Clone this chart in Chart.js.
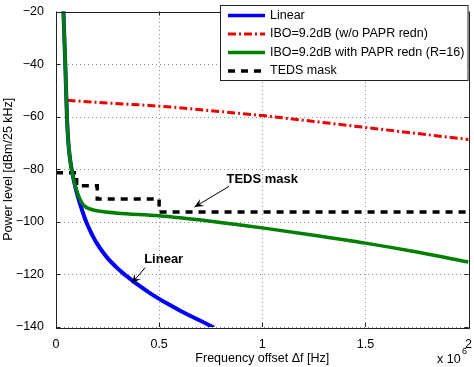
<!DOCTYPE html>
<html><head><meta charset="utf-8">
<script src="https://cdn.jsdelivr.net/npm/chart.js@4"></script>
<style>html,body{margin:0;padding:0;background:#fff;overflow:hidden}#wrap{width:474px;height:367px;position:relative}</style>
</head><body><div id="wrap"><canvas id="c" width="474" height="367"></canvas></div>
<script>
// ---- data (frequency offset in units of 1e6 Hz, level in dBm/25 kHz) ----
const linearX = [0.034,0.036,0.045,0.053,0.06,0.068,0.077,0.09,0.101,0.115,0.126,0.148,0.166,0.181,0.2,0.225,0.25,0.3,0.326,0.35,0.4,0.45,0.5,0.537,0.6,0.65,0.7,0.765];
const linearY = [-15,-20,-40,-60,-70,-76,-80.5,-85.5,-89,-92.8,-95.5,-100.3,-103.4,-105.8,-108.4,-111.3,-113.8,-117.8,-119.6,-121.1,-124.1,-126.8,-129.3,-131.0,-133.7,-135.7,-137.6,-140.2];
const iboX = [0.056,0.25,0.5,0.75,1.0,1.25,1.5,1.75,2.0];
const iboY = [-53.8,-54.8,-56.0,-57.7,-59.6,-61.8,-64.1,-66.4,-68.7];
const paprX = [0.034,0.036,0.045,0.053,0.06,0.068,0.077,0.09,0.101,0.115,0.126,0.14,0.157,0.185,0.214,0.3,0.5,0.75,1.0,1.25,1.5,1.75,2.0];
const paprY = [-15,-20,-40,-60,-70,-76,-80.5,-85.3,-88.3,-91.2,-92.8,-94.1,-94.9,-95.6,-96,-96.7,-97.7,-99.8,-102.3,-105.1,-108.1,-111.5,-115.3];
const maskX = [0,0.1,0.2,0.5,2.0];
const maskY = [-81.3,-86.3,-91.3,-96.3,-96.3];
const xTicks = [0,0.5,1,1.5,2];
const yTicks = [-140,-120,-100,-80,-60,-40,-20];
const seriesNames = ['Linear','IBO=9.2dB (w/o PAPR redn)','IBO=9.2dB with PAPR redn (R=16)','TEDS mask'];
// annotations: [text, textX, textY, tailX, tailY, tipX, tipY] in data units
const notes = [
  ['TEDS mask', 1.0, -83.7, 0.839, -86.5, 0.671, -94.4],
  ['Linear', 0.522, -114.3, 0.432, -117.4, 0.368, -123.4]
];

const FONT = '"Liberation Sans", Arial, Helvetica, sans-serif';
const FS = 12.5;
const pts = (xs, ys) => xs.map((x, i) => ({x, y: ys[i]}));

const styles = [
  {borderColor:'#0000ff', borderWidth:4, borderDash:[], order:1},
  {borderColor:'#ee0000', borderWidth:3, borderDash:[8,3,2,3], order:2},
  {borderColor:'#007f00', borderWidth:3.5, borderDash:[], order:0},
  {borderColor:'#000000', borderWidth:3.5, borderDash:[7,6], order:3}
];

const gridPlugin = {
  id:'dotgrid',
  beforeDatasetsDraw(chart){
    const {ctx, chartArea:a, scales:{x, y}} = chart;
    ctx.save();
    ctx.strokeStyle = '#8a8a8a'; ctx.lineWidth = 1; ctx.setLineDash([1,3]);
    ctx.beginPath();
    xTicks.forEach(v => { const px = Math.round(x.getPixelForValue(v))+0.5; ctx.moveTo(px, a.bottom); ctx.lineTo(px, a.top); });
    yTicks.forEach(v => { const py = Math.round(y.getPixelForValue(v))+0.5; ctx.moveTo(a.left, py); ctx.lineTo(a.right, py); });
    ctx.stroke();
    ctx.restore();
  }
};

const framePlugin = {
  id:'frame',
  afterDatasetsDraw(chart){
    const {ctx, chartArea:a, scales:{x, y}} = chart;
    ctx.save();
    ctx.strokeStyle = '#222'; ctx.lineWidth = 1; ctx.setLineDash([]);
    ctx.strokeRect(Math.round(a.left)+0.5, Math.round(a.top)+0.5, Math.round(a.right-a.left), Math.round(a.bottom-a.top));
    ctx.beginPath();
    xTicks.forEach(v => { const px = Math.round(x.getPixelForValue(v))+0.5;
      ctx.moveTo(px, a.bottom); ctx.lineTo(px, a.bottom-4); ctx.moveTo(px, a.top); ctx.lineTo(px, a.top+4); });
    yTicks.forEach(v => { const py = Math.round(y.getPixelForValue(v))+0.5;
      ctx.moveTo(a.left, py); ctx.lineTo(a.left+4, py); ctx.moveTo(a.right, py); ctx.lineTo(a.right-4, py); });
    ctx.stroke();
    // annotations
    notes.forEach(n => {
      const tx = x.getPixelForValue(n[1]), ty = y.getPixelForValue(n[2]);
      ctx.font = 'bold 13px ' + FONT; ctx.fillStyle = '#000'; ctx.textAlign = 'center'; ctx.textBaseline = 'middle';
      ctx.fillText(n[0], tx, ty);
      const x0 = x.getPixelForValue(n[3]), y0 = y.getPixelForValue(n[4]);
      const x1 = x.getPixelForValue(n[5]), y1 = y.getPixelForValue(n[6]);
      ctx.strokeStyle = '#000'; ctx.lineWidth = 1;
      ctx.beginPath(); ctx.moveTo(x0, y0); ctx.lineTo(x1, y1); ctx.stroke();
      const ang = Math.atan2(y1-y0, x1-x0), L = 10, W = 0.42;
      ctx.beginPath();
      ctx.moveTo(x1, y1);
      ctx.lineTo(x1 - L*Math.cos(ang-W), y1 - L*Math.sin(ang-W));
      ctx.lineTo(x1 - L*0.55*Math.cos(ang), y1 - L*0.55*Math.sin(ang));
      ctx.lineTo(x1 - L*Math.cos(ang+W), y1 - L*Math.sin(ang+W));
      ctx.closePath(); ctx.fillStyle = '#000'; ctx.fill();
    });
    // legend box
    const lx = 220, ly = 5, lw = a.right - 220, lh = 75;
    ctx.fillStyle = '#fff'; ctx.fillRect(lx, ly, lw, lh);
    ctx.strokeStyle = '#222'; ctx.lineWidth = 1; ctx.strokeRect(lx+0.5, ly+0.5, lw-1, lh);
    ctx.font = FS + 'px ' + FONT; ctx.textAlign = 'left'; ctx.textBaseline = 'middle';
    chart.data.datasets.forEach((ds, i) => {
      const cy = ly + 10.5 + i*18.5;
      ctx.strokeStyle = ds.borderColor; ctx.lineWidth = Math.min(ds.borderWidth, 3.5);
      ctx.setLineDash(ds.borderDash || []);
      ctx.beginPath(); ctx.moveTo(228, cy); ctx.lineTo(265, cy); ctx.stroke();
      ctx.setLineDash([]);
      ctx.fillStyle = '#000'; ctx.fillText(ds.label, 270, cy);
    });
    // x title and exponent
    ctx.textAlign = 'center'; ctx.textBaseline = 'middle'; ctx.font = FS + 'px ' + FONT; ctx.fillStyle = '#000';
    ctx.fillText('Frequency offset \u0394f [Hz]', (a.left + a.right)/2, 359);
    ctx.textAlign = 'left';
    ctx.fillText('x 10', 437, 360);
    ctx.font = '9px ' + FONT;
    ctx.fillText('6', 462, 352);
    // y title
    ctx.save();
    ctx.translate(9, (a.top + a.bottom)/2); ctx.rotate(-Math.PI/2);
    ctx.font = FS + 'px ' + FONT; ctx.textAlign = 'center'; ctx.textBaseline = 'middle';
    ctx.fillText('Power level [dBm/25 kHz]', 0, 0);
    ctx.restore();
    ctx.restore();
  }
};

new Chart(document.getElementById('c'), {
  type: 'scatter',
  data: { datasets: [
    Object.assign({label: seriesNames[0], data: pts(linearX, linearY), cubicInterpolationMode:'monotone'}, styles[0]),
    Object.assign({label: seriesNames[1], data: pts(iboX, iboY), cubicInterpolationMode:'monotone'}, styles[1]),
    Object.assign({label: seriesNames[2], data: pts(paprX, paprY), cubicInterpolationMode:'monotone'}, styles[2]),
    Object.assign({label: seriesNames[3], data: pts(maskX, maskY), stepped:true}, styles[3])
  ].map(d => Object.assign(d, {showLine:true, pointRadius:0, pointHoverRadius:0, fill:false, clip:0, borderCapStyle:'butt'})) },
  options: {
    responsive:false, animation:false, events:[],
    layout:{padding:{top:6, right:5, left:0, bottom:0}},
    plugins:{legend:{display:false}, tooltip:{enabled:false}},
    scales:{
      x:{type:'linear', min:0, max:2,
        afterFit(s){ s.height = 40; },
        afterBuildTicks(s){ s.ticks = xTicks.map(v => ({value:v})); },
        ticks:{color:'#000', font:{family:FONT, size:FS}, padding:2, maxRotation:0,
          callback:v => String(v)},
        grid:{display:false},
        border:{display:false}
      },
      y:{type:'linear', min:-140, max:-20,
        afterFit(s){ s.width = 56; },
        afterBuildTicks(s){ s.ticks = yTicks.map(v => ({value:v})); },
        ticks:{color:'#000', font:{family:FONT, size:FS}, padding:4,
          callback:v => String(v).replace('-', '\u2212')},
        grid:{display:false},
        border:{display:false}
      }
    }
  },
  plugins:[gridPlugin, framePlugin]
});
</script></body></html>
